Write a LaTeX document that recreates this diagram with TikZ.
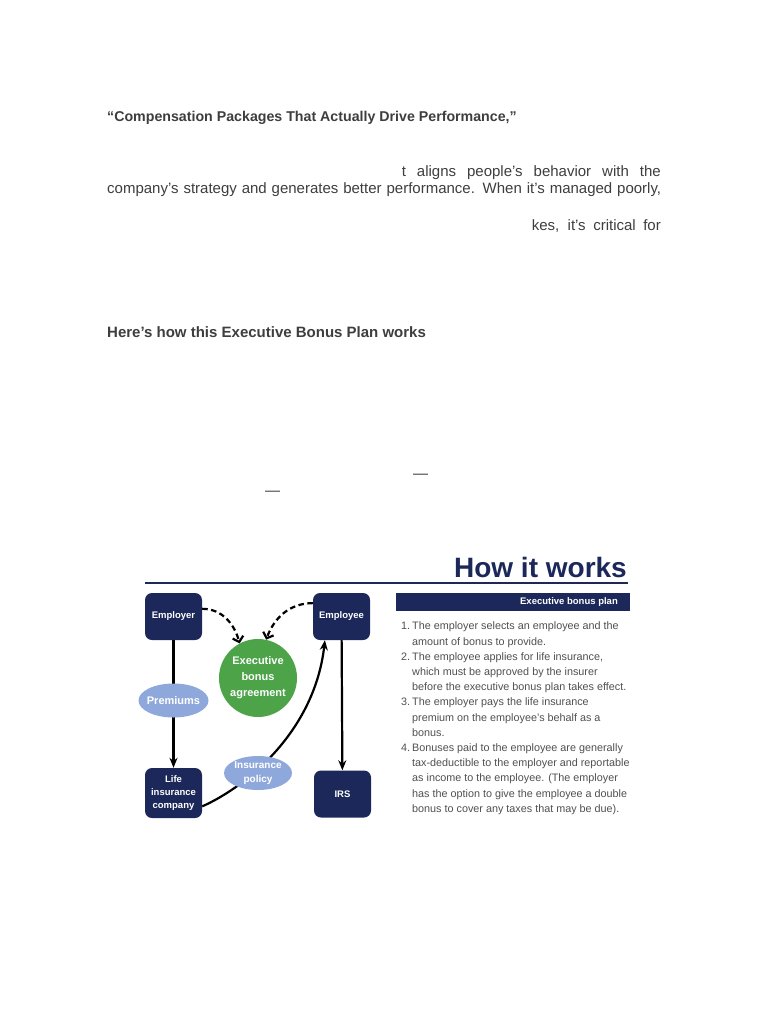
\documentclass[tikz,border=0pt]{standalone}
\usepackage{fontspec}
\setmainfont{Liberation Sans}
\usetikzlibrary{shapes.geometric,arrows.meta}
\definecolor{navy}{RGB}{27,40,89}
\definecolor{bonusgreen}{RGB}{76,163,72}
\definecolor{paleblue}{RGB}{143,168,220}
\definecolor{bodygray}{RGB}{62,62,62}
\definecolor{listgray}{RGB}{80,80,80}

\begin{document}
\begin{tikzpicture}[x=1pt, y=1pt, >={Stealth[length=10pt,width=8pt]},
    party/.style={fill=navy, rounded corners=7pt, minimum width=57pt, minimum height=47pt, text=white, font=\bfseries\fontsize{9.5}{13}\selectfont, align=center, inner sep=1pt},
    oval/.style={ellipse, fill=paleblue, text=white, minimum width=70pt, minimum height=34pt, inner xsep=-6pt, inner ysep=0pt, font=\bfseries\fontsize{10}{14}\selectfont, align=center},
    body/.style={text=bodygray, font=\fontsize{15}{18}\selectfont, inner sep=0pt},
    head/.style={text=bodygray, font=\bfseries\fontsize{14.5}{17}\selectfont, inner sep=0pt},
    link/.style={line width=2.2pt, ->},
    dashlink/.style={line width=2.2pt, dash pattern=on 5.5pt off 3.5pt, -{Straight Barb[length=5pt,width=11pt]}}]

    \fill[white] (0,0) rectangle (768,-1024);
    \useasboundingbox (0,0) rectangle (768,-1024);

    % text of the page
    \node[head, font=\bfseries\fontsize{14.2}{17}\selectfont, anchor=base west] (title) at (107,-122) {“Compensation Packages That Actually Drive Performance,”};
    \node[body, anchor=base east] (line1) at (661,-177) {\makebox[259pt][s]{t aligns people’s behavior with the}};
    \node[body, anchor=base west] (line2) at (107,-194) {\makebox[554pt][s]{company’s strategy and generates better performance. When it’s managed poorly,}};
    \node[body, anchor=base east] (line3) at (661,-231) {\makebox[129pt][s]{kes, it’s critical for}};
    \node[head, font=\bfseries\fontsize{15}{17}\selectfont, anchor=base west] (plan) at (107,-337) {Here’s how this Executive Bonus Plan works};
    \node[body] (dashA) at (420.5,-476) {—};
    \node[body] (dashB) at (272.5,-493) {—};

    % slide heading
    \node[text=navy, font=\bfseries\fontsize{28}{30}\selectfont, inner sep=0pt, anchor=base east] (works) at (627,-577) {How it works};
    \draw[navy, line width=1.5pt] (145,-583) -- (628,-583);

    % parties
    \node[party] (employer) at (173.5,-616.5) {Employer};
    \node[party] (employee) at (341.5,-616.5) {Employee};
    \node[party, minimum height=50pt] (life) at (173.5,-793) {Life\\insurance\\company};
    \node[party] (irs) at (342.5,-794) {IRS};
    \node[circle, fill=bonusgreen, minimum size=78pt, inner sep=0pt, text=white, align=center, font=\bfseries\fontsize{11}{16}\selectfont] (agree) at (258,-678) {Executive\\bonus\\agreement};

    % flows
    \draw[dashlink] (employer.15) to[out=0, in=105] (agree.118);
    \draw[dashlink] (employee.155) to[out=180, in=70] (agree.78);
    \draw[link] (employer) -- (life);
    \draw[link] (employee) -- (irs);
    \draw[link] (life.-25) .. controls +(47,21) and +(-10,-89) .. (employee.235);

    \node[oval, font=\bfseries\fontsize{11}{14}\selectfont] (premiums) at (173.5,-700.5) {Premiums};
    \node[oval, minimum width=68pt] (policy) at (258,-773) {Insurance\\policy};

    % side panel
    \fill[navy] (396,-593) rectangle (630,-611);
    \node[text=white, font=\bfseries\fontsize{9.5}{10}\selectfont, inner sep=0pt, anchor=east] (panel) at (618,-602) {Executive bonus plan};
    \node[text=listgray, font=\fontsize{10.8}{15.2}\selectfont, inner sep=0pt, anchor=north west] (steps) at (401,-619) {%
      \begin{tabular}{@{}l@{\hspace{2pt}}l@{}}
        1. & The employer selects an employee and the\\
           & amount of bonus to provide.\\
        2. & The employee applies for life insurance,\\
           & which must be approved by the insurer\\
           & before the executive bonus plan takes effect.\\
        3. & The employer pays the life insurance\\
           & premium on the employee’s behalf as a\\
           & bonus.\\
        4. & Bonuses paid to the employee are generally\\
           & tax-deductible to the employer and reportable\\
           & as income to the employee. (The employer\\
           & has the option to give the employee a double\\
           & bonus to cover any taxes that may  be due).
      \end{tabular}};
\end{tikzpicture}
\end{document}
